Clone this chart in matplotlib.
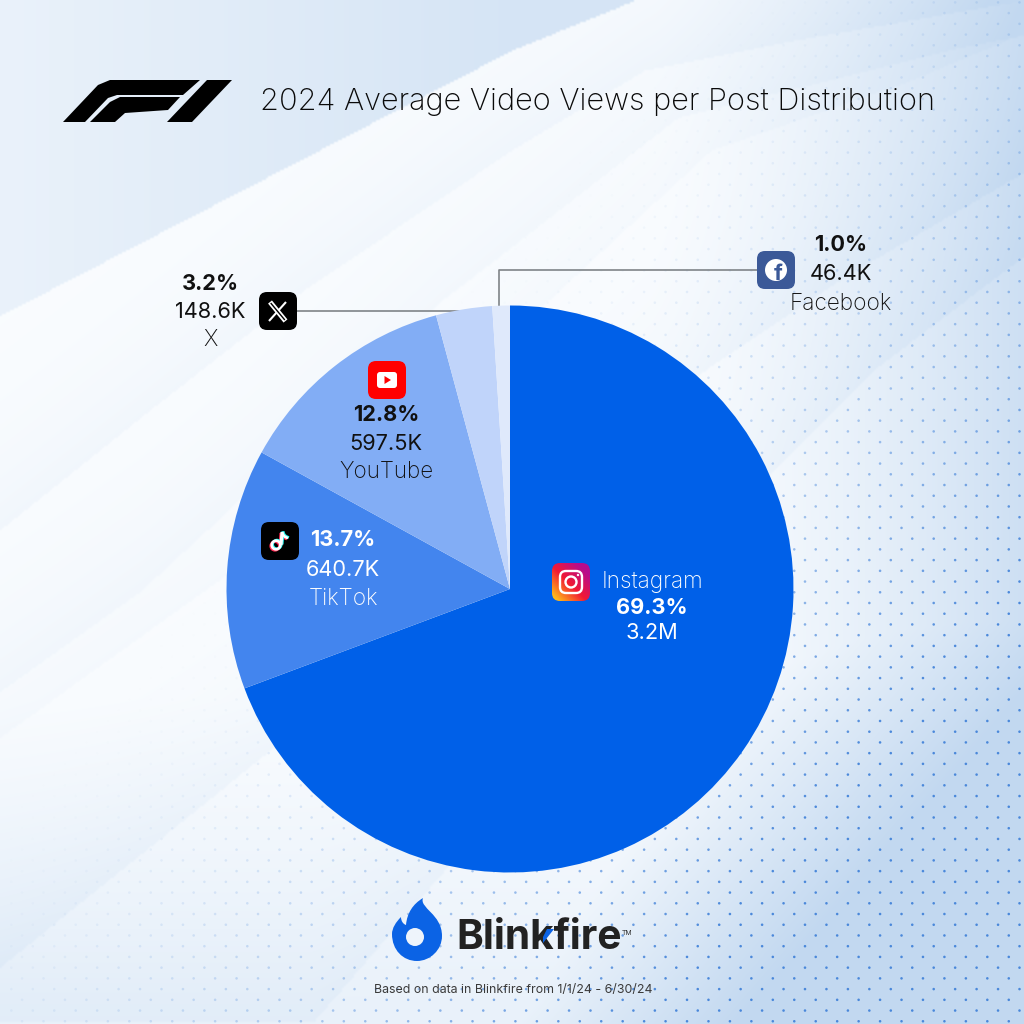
import numpy as np
import matplotlib
matplotlib.use("Agg")
import matplotlib.pyplot as plt
from matplotlib.patches import FancyBboxPatch, Circle, Polygon, PathPatch
from matplotlib.path import Path

platforms = ["Instagram", "TikTok", "YouTube", "X", "Facebook"]
shares = [69.3, 13.7, 12.8, 3.2, 1.0]
views = ["3.2M", "640.7K", "597.5K", "148.6K", "46.4K"]
colors = ["#0060E8", "#4385EE", "#82ADF5", "#C0D4FA", "#DFE9FB"]
title = "2024 Average Video Views per Post Distribution"
footnote = "Based on data in Blinkfire from 1/1/24 - 6/30/24"
FONT = "Inter"

fig = plt.figure(figsize=(10.24, 10.24), dpi=100)

# ---------- background: blue field with fan of soft-edged bands ----------
bg = fig.add_axes([0, 0, 1, 1], zorder=0)
bg.set_xlim(0, 1024); bg.set_ylim(1024, 0); bg.axis("off")
yy, xx = np.mgrid[0:1024:512j, 0:1024:512j]
s = 0.75 * xx + 0.65 * yy
field = np.maximum(np.clip((s - 980) / 240, 0, 1),
                   0.8 * np.clip((xx - 650) / 374, 0, 1) ** 1.5)
field = np.maximum(field, 0.3 * np.clip((yy - 700) / 300, 0, 1))
curves = [
    ([0, 150, 300, 512, 645, 795, 1024], [530, 410, 293, 150, 70, 40, 0], 0.13, 110),
    ([0, 140, 227, 443, 512, 679, 962, 1024], [692, 592, 512, 300, 247, 117, 47, 35], 0.10, 110),
    ([0, 227, 400, 542, 712, 912, 1024], [738, 575, 440, 307, 150, 80, 33], 0.08, 110),
    ([0, 273, 500, 702, 845, 1024], [968, 749, 560, 373, 277, 173], 0.14, 130),
    ([313, 447, 600, 772, 879, 1024], [1024, 869, 680, 473, 367, 257], 0.14, 130),
]
for cx_, cy_, a, w in curves:
    edge = np.interp(xx, cx_, cy_)
    field = field + np.where(yy < edge, a * np.exp(-(edge - yy) / w), 0)
top_edge = np.interp(xx, [0, 30, 512, 635, 1024], [315, 300, 50, 0, -100])
field = np.where(yy < top_edge, np.maximum(field, 0.3 + 0.35 * np.clip(xx / 500, 0, 1)), field)
field = np.clip(field, 0, 1)
c_light, c_blue = np.array([251, 253, 255]) / 255, np.array([194, 216, 240]) / 255
img = c_light + field[..., None] * (c_blue - c_light)
bg.imshow(img, extent=(0, 1024, 1024, 0), aspect="auto", zorder=0, interpolation="bilinear")

# dot grid, fading towards upper left
step = 21.45
dx, dy = np.meshgrid(np.arange(0, 48) * step, np.arange(0, 48) * step)
gx = np.r_[dx.ravel() + 11.35, dx.ravel() + 22.07]
gy = np.r_[dy.ravel() + 2.4, dy.ravel() + 13.12]
strength = np.clip((0.75 * gx + 0.65 * gy - 520) / 620, 0, 1) ** 1.8
rgba = np.zeros((gx.size, 4))
rgba[:, :3] = matplotlib.colors.to_rgb("#3D7FD8")
rgba[:, 3] = strength * 0.9
bg.scatter(gx, gy, s=3.4, c=rgba, linewidths=0, zorder=2)

# connector lines sit under the pie
bg.plot([297, 470], [311, 311], color="#7F8488", lw=1.2, zorder=3)
bg.plot([758, 499, 499], [269.5, 269.5, 310], color="#7F8488", lw=1.2, zorder=3)

# ---------- pie ----------
R, CX, CY = 283.5, 510, 589
pie_ax = fig.add_axes([(CX - R) / 1024, (1024 - CY - R) / 1024, 2 * R / 1024, 2 * R / 1024], zorder=1)
pie_ax.pie(shares, colors=colors, startangle=90, counterclock=False, radius=1,
           wedgeprops=dict(edgecolor="none"))
pie_ax.set_xlim(-1, 1); pie_ax.set_ylim(-1, 1)
pie_ax.patch.set_alpha(0)

# ---------- overlay ----------
ov = fig.add_axes([0, 0, 1, 1], zorder=2)
ov.set_xlim(0, 1024); ov.set_ylim(1024, 0); ov.axis("off"); ov.patch.set_alpha(0)


def label(x, y, s, size=15.7, weight="normal", color="#111111"):
    ov.text(x, y, s, ha="center", va="center", fontsize=size, fontweight=weight,
            color=color, family=FONT)


def tile(x, y, color, half=19, z=3):
    p = FancyBboxPatch((x - half + 6, y - half + 6), 2 * half - 12, 2 * half - 12,
                       boxstyle="round,pad=6,rounding_size=8", fc=color, ec="none", zorder=z)
    ov.add_patch(p)
    return p


# Title and F1 mark
ov.text(260, 102, title, ha="left", va="center", fontsize=22.1, fontweight="light", color="#0A0A0A", family=FONT)
ov.add_patch(Polygon([(63, 122), (98, 85), (110, 80), (200, 80), (183, 95), (117, 95), (108, 98), (85, 122)],
                     closed=True, fc="black", ec="none"))
ov.add_patch(Polygon([(90, 122), (110, 102), (120, 97), (180, 97), (168, 110), (125, 113), (115, 122)],
                     closed=True, fc="black", ec="none"))
ov.add_patch(Polygon([(167, 122), (207, 80), (232, 80), (192, 122)], closed=True, fc="black", ec="none"))

# Instagram
grad_y, grad_x = np.mgrid[0:1:64j, 0:1:64j]
g = np.clip(grad_x * 0.6 + (1 - grad_y) * 0.6, 0, 1)
c0, c1, c2 = np.array([1.0, 0.72, 0.1]), np.array([0.95, 0.1, 0.2]), np.array([0.72, 0.05, 0.55])
ig = np.dstack([np.interp(g, [0.1, 0.55, 1.0], [c0[i], c1[i], c2[i]]) for i in range(3)])
clip = tile(571, 582, "none")
im = ov.imshow(ig, extent=(552, 590, 601, 563), aspect="auto", zorder=3)
im.set_clip_path(clip)
ov.set_xlim(0, 1024); ov.set_ylim(1024, 0)
ov.add_patch(FancyBboxPatch((562, 573), 18, 18, boxstyle="round,pad=2,rounding_size=6", fc="none", ec="white", lw=1.7, zorder=4))
ov.add_patch(Circle((571, 582), 5.5, fc="none", ec="white", lw=1.7, zorder=4))
ov.add_patch(Circle((578, 575), 1.2, fc="white", ec="none", zorder=4))
label(652, 582, platforms[0], size=16.3, color="white", weight="light")
label(652, 608, f"{shares[0]}%", weight="bold", color="white")
label(652, 633, views[0], color="white")

# TikTok
tile(280, 541, "#000000")
for off, col in [((-1, 1), "#FF2D55"), ((1, -0.6), "#25F4EE"), ((0, 0), "white")]:
    ox, oy = off
    ov.add_patch(Circle((276 + ox, 545 + oy), 4.3, fc="none", ec=col, lw=1.9, zorder=4))
    ov.plot([281 + ox, 282 + ox], [545 + oy, 532 + oy], color=col, lw=2.2, zorder=4, solid_capstyle="butt")
    ov.add_patch(PathPatch(Path([(282 + ox, 532 + oy), (283 + ox, 537 + oy), (288 + ox, 538 + oy)],
                                [Path.MOVETO, Path.CURVE3, Path.CURVE3]),
                           fc="none", ec=col, lw=1.9, zorder=4))
label(343, 540, f"{shares[1]}%", weight="bold", color="white")
label(343, 570, views[1], color="white")
label(343, 599, platforms[1], size=16.3, color="white", weight="light")

# YouTube
tile(387, 380, "#FF0000")
ov.add_patch(FancyBboxPatch((379, 374), 16, 12, boxstyle="round,pad=2,rounding_size=3", fc="white", ec="none", zorder=4))
ov.add_patch(Polygon([(384.5, 376), (384.5, 384), (391, 380)], closed=True, fc="#FF0000", ec="none", zorder=5))
label(386, 415, f"{shares[2]}%", weight="bold")
label(386, 444, views[2])
label(386, 472, platforms[2], size=16.1, weight="light")

# X
tile(278, 311, "#000000")
ov.plot([270, 285.5], [302, 321], color="white", lw=3.6, zorder=4, solid_capstyle="butt")
ov.plot([270.7, 284.8], [303, 320], color="#000000", lw=1.0, zorder=5, solid_capstyle="butt")
ov.plot([286, 269], [302, 321], color="white", lw=1.5, zorder=4, solid_capstyle="butt")
label(210, 284, f"{shares[3]}%", weight="bold")
label(210, 312, views[3])
label(210, 340, platforms[3], size=16.1, weight="light")

# Facebook
tile(776, 270, "#3B5998")
ov.add_patch(Circle((776, 270), 11, fc="white", ec="none", zorder=4))
ov.text(778, 274, "f", ha="center", va="center", fontsize=16, fontweight="bold", color="#3B5998", family=FONT, zorder=5)
label(841, 245, f"{shares[4]}%", weight="bold")
label(841, 274, views[4])
label(841, 304, platforms[4], size=16.3, weight="light")

# Blinkfire mark and footer
C4 = Path.CURVE4
flame = Path(
    [(423, 898), (419, 908), (442, 914), (442, 936),
     (442, 950), (430, 961), (417, 961),
     (403, 961), (392, 950), (392, 934),
     (392, 928), (396, 922), (401, 917),
     (401, 921), (403, 924), (406, 925),
     (407, 913), (413, 904), (423, 898)],
    [Path.MOVETO, C4, C4, C4, C4, C4, C4, C4, C4, C4, C4, C4, C4, C4, C4, C4, C4, C4, C4])
ov.add_patch(PathPatch(flame, fc="#0B63E5", ec="none", zorder=3))
ov.add_patch(Circle((415, 937), 9, fc="#EEF4FB", ec="none", zorder=4))
ov.text(456, 938, "Blinkfire", ha="left", va="center", fontsize=29.3, fontweight="bold", color="#222222", family=FONT)
ov.add_patch(Polygon([(554, 929), (543, 943), (543, 937), (547, 929)], closed=True, fc="#0B63E5", ec="none", zorder=4))
ov.text(622, 933, "TM", ha="left", va="center", fontsize=5, color="#333333", family=FONT)
ov.text(513, 990, footnote, ha="center", va="center", fontsize=8.9, color="#3A3A3A", family=FONT)

fig.savefig("out.png", dpi=100)
